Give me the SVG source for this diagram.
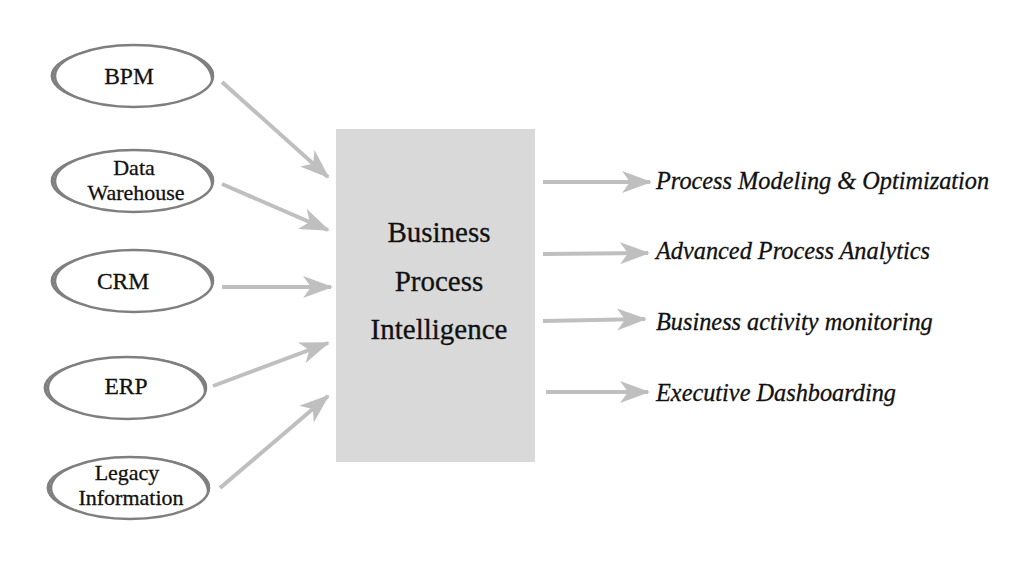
<svg xmlns="http://www.w3.org/2000/svg" xmlns:xlink="http://www.w3.org/1999/xlink" width="1024" height="571" viewBox="0 0 1024 571">
<style>
.ring{fill:none;stroke:#7f7f7f;stroke-width:2.5}
.swoosh{fill:#7f7f7f;stroke:none}
.ntext{font-family:"Liberation Serif","Times New Roman",serif;font-size:23.5px;fill:#111;stroke:#111;stroke-width:0.3;text-anchor:middle}
.ntext2{font-size:22px}
.ctext{font-family:"Liberation Serif","Times New Roman",serif;font-size:29px;fill:#111;stroke:#111;stroke-width:0.3;text-anchor:middle}
.otext{font-family:"Liberation Serif","Times New Roman",serif;font-style:italic;font-size:24.3px;fill:#111;stroke:#111;stroke-width:0.3}
.conn{stroke:#bfbfbf;stroke-width:4;fill:none;marker-end:url(#ah)}
</style>
<defs>
<marker id="ah" markerUnits="userSpaceOnUse" viewBox="0 0 30 22" refX="28" refY="11" markerWidth="30" markerHeight="22" orient="auto">
<path d="M0,0 L30,11 L0,22 L8,11 z" fill="#bfbfbf"/>
</marker>
<g id="ringShape">
<ellipse class="ring" cx="0" cy="0" rx="79" ry="31"/>
<path class="swoosh" d="M24,-30.5 A79,31 0 0 1 76,9 A84,37 0 0 0 24,-30.5 z"/>
<path class="swoosh" d="M-40,27 A79,31 0 0 1 -40,-27 A77,30 0 0 0 -40,27 z"/>
</g>
</defs>
<rect width="1024" height="571" fill="#ffffff"/>
<g id="connectors">
<line class="conn" x1="222" y1="82" x2="328" y2="177"/>
<line class="conn" x1="222" y1="184" x2="328" y2="230"/>
<line class="conn" x1="222" y1="287" x2="331" y2="287"/>
<line class="conn" x1="213" y1="386" x2="328" y2="343"/>
<line class="conn" x1="220" y1="488" x2="328" y2="396"/>
<line class="conn" x1="543" y1="182" x2="650" y2="182"/>
<line class="conn" x1="543" y1="254" x2="648" y2="253"/>
<line class="conn" x1="543" y1="321" x2="645" y2="319"/>
<line class="conn" x1="546" y1="392" x2="648" y2="392"/>
</g>
<g id="node-bpm">
<use xlink:href="#ringShape" transform="translate(134,76)"/>
<text class="ntext" x="129" y="84">BPM</text>
</g>
<g id="node-datawarehouse">
<use xlink:href="#ringShape" transform="translate(134,181)"/>
<text class="ntext ntext2" x="134" y="175">Data</text>
<text class="ntext ntext2" x="136" y="200">Warehouse</text>
</g>
<g id="node-crm">
<use xlink:href="#ringShape" transform="translate(134,281)"/>
<text class="ntext" x="123" y="289">CRM</text>
</g>
<g id="node-erp">
<use xlink:href="#ringShape" transform="translate(127,388)"/>
<text class="ntext" x="126" y="394">ERP</text>
</g>
<g id="node-legacy">
<use xlink:href="#ringShape" transform="translate(130,488)"/>
<text class="ntext ntext2" x="127" y="480">Legacy</text>
<text class="ntext ntext2" x="131" y="505">Information</text>
</g>
<g id="node-bpi">
<rect x="336" y="129" width="199" height="333" fill="#d9d9d9"/>
<text class="ctext" x="439" y="242">Business</text>
<text class="ctext" x="439" y="291">Process</text>
<text class="ctext" x="439" y="339">Intelligence</text>
</g>
<g id="node-out1"><text class="otext" x="656" y="189">Process Modeling &amp; Optimization</text></g>
<g id="node-out2"><text class="otext" x="656" y="259">Advanced Process Analytics</text></g>
<g id="node-out3"><text class="otext" x="656" y="330">Business activity monitoring</text></g>
<g id="node-out4"><text class="otext" x="656" y="401">Executive Dashboarding</text></g>
</svg>
